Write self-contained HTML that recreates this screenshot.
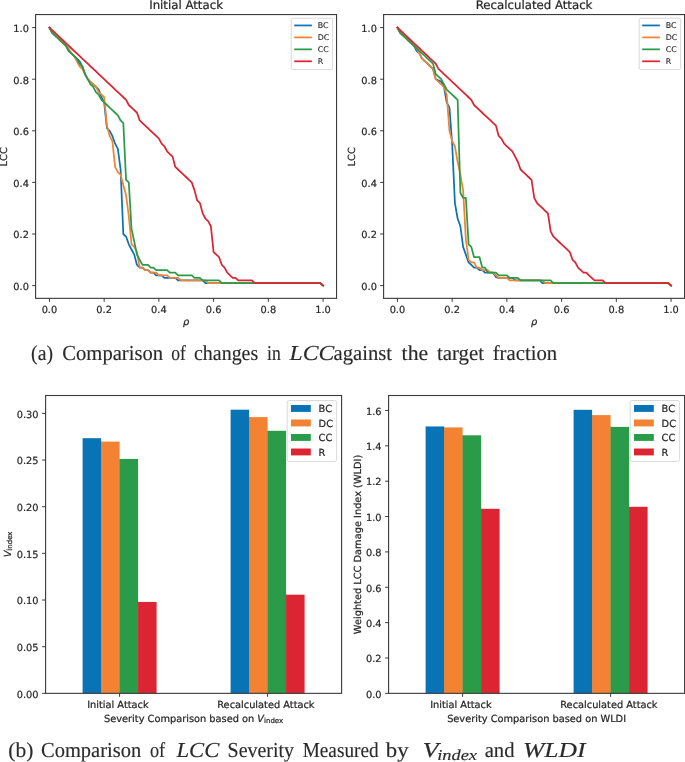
<!DOCTYPE html>
<html><head><meta charset="utf-8"><title>LCC attack comparison</title>
<style>
html,body{margin:0;padding:0;background:#fff;}
svg{display:block;}
svg text{text-rendering:geometricPrecision;font-family:"DejaVu Sans", "Liberation Sans", sans-serif;stroke:#262626;stroke-width:0.22px;}
svg text.sm{stroke-width:0.12px;}
svg text.cap{stroke:#2a2a2a;stroke-width:0.15px;}
</style></head>
<body>
<svg width="685" height="762" viewBox="0 0 685 762">
<rect width="685" height="762" fill="#ffffff"/>
<svg x="35.60" y="14.55" width="300.95" height="283.80" viewBox="35.60 14.55 300.95 283.80" overflow="hidden">
<polyline points="49.45,27.60 52.19,32.76 54.92,35.34 57.66,37.92 60.39,40.50 63.13,43.08 65.87,45.66 68.60,50.82 71.34,53.40 74.07,55.98 76.81,58.56 79.55,61.14 82.28,66.30 85.02,74.04 87.75,79.20 90.49,81.78 93.23,84.36 95.96,86.94 98.70,89.52 101.43,97.26 104.17,102.42 106.91,128.22 109.64,130.80 112.38,135.96 115.11,143.70 117.85,148.86 120.59,169.50 123.32,234.00 126.06,236.58 128.79,244.32 131.53,249.48 134.27,254.64 137.00,264.96 139.74,267.54 142.47,267.54 145.21,270.12 147.95,270.12 150.68,272.70 153.42,272.70 156.15,275.28 158.89,275.28 161.63,275.28 164.36,277.86 167.10,277.86 169.83,277.86 172.57,277.86 175.31,277.86 178.04,280.44 180.78,280.44 183.51,280.44 186.25,280.44 188.99,280.44 191.72,280.44 194.46,280.44 197.19,280.44 199.93,280.44 202.67,280.44 205.40,283.02 208.14,283.02 210.87,283.02 213.61,283.02 216.35,283.02 219.08,283.02 221.82,283.02 224.55,283.02 227.29,283.02 230.03,283.02 232.76,283.02 235.50,283.02 238.23,283.02 240.97,283.02 243.71,283.02 246.44,283.02 249.18,283.02 251.91,283.02 254.65,283.02 257.39,283.02 260.12,283.02 262.86,283.02 265.59,283.02 268.33,283.02 271.07,283.02 273.80,283.02 276.54,283.02 279.27,283.02 282.01,283.02 284.75,283.02 287.48,283.02 290.22,283.02 292.95,283.02 295.69,283.02 298.43,283.02 301.16,283.02 303.90,283.02 306.63,283.02 309.37,283.02 312.11,283.02 314.84,283.02 317.58,283.02 320.31,283.02 323.05,285.60" fill="none" stroke="#0873B5" stroke-width="1.75" stroke-linejoin="round" stroke-linecap="square"/>
<polyline points="49.45,27.60 52.19,32.76 54.92,35.34 57.66,37.92 60.39,40.50 63.13,43.08 65.87,45.66 68.60,48.24 71.34,53.40 74.07,55.98 76.81,61.14 79.55,66.30 82.28,68.88 85.02,74.04 87.75,79.20 90.49,81.78 93.23,84.36 95.96,86.94 98.70,92.10 101.43,94.68 104.17,97.26 106.91,125.64 109.64,135.96 112.38,141.12 115.11,166.92 117.85,172.08 120.59,174.66 123.32,184.98 126.06,195.30 128.79,215.94 131.53,244.32 134.27,246.90 137.00,252.06 139.74,267.54 142.47,267.54 145.21,270.12 147.95,270.12 150.68,272.70 153.42,272.70 156.15,272.70 158.89,275.28 161.63,275.28 164.36,275.28 167.10,275.28 169.83,277.86 172.57,277.86 175.31,277.86 178.04,277.86 180.78,280.44 183.51,280.44 186.25,280.44 188.99,280.44 191.72,280.44 194.46,280.44 197.19,280.44 199.93,280.44 202.67,280.44 205.40,280.44 208.14,283.02 210.87,283.02 213.61,283.02 216.35,283.02 219.08,283.02 221.82,283.02 224.55,283.02 227.29,283.02 230.03,283.02 232.76,283.02 235.50,283.02 238.23,283.02 240.97,283.02 243.71,283.02 246.44,283.02 249.18,283.02 251.91,283.02 254.65,283.02 257.39,283.02 260.12,283.02 262.86,283.02 265.59,283.02 268.33,283.02 271.07,283.02 273.80,283.02 276.54,283.02 279.27,283.02 282.01,283.02 284.75,283.02 287.48,283.02 290.22,283.02 292.95,283.02 295.69,283.02 298.43,283.02 301.16,283.02 303.90,283.02 306.63,283.02 309.37,283.02 312.11,283.02 314.84,283.02 317.58,283.02 320.31,283.02 323.05,285.60" fill="none" stroke="#F38233" stroke-width="1.75" stroke-linejoin="round" stroke-linecap="square"/>
<polyline points="49.45,27.60 52.19,32.76 54.92,35.34 57.66,37.92 60.39,40.50 63.13,43.08 65.87,45.66 68.60,50.82 71.34,53.40 74.07,55.98 76.81,58.56 79.55,63.72 82.28,66.30 85.02,74.04 87.75,79.20 90.49,84.36 93.23,86.94 95.96,92.10 98.70,94.68 101.43,99.84 104.17,102.42 106.91,105.00 109.64,107.58 112.38,110.16 115.11,112.74 117.85,115.32 120.59,120.48 123.32,123.06 126.06,179.82 128.79,182.40 131.53,228.84 134.27,241.74 137.00,254.64 139.74,259.80 142.47,264.96 145.21,264.96 147.95,264.96 150.68,267.54 153.42,267.54 156.15,270.12 158.89,270.12 161.63,270.12 164.36,270.12 167.10,270.12 169.83,272.70 172.57,272.70 175.31,272.70 178.04,275.28 180.78,275.28 183.51,275.28 186.25,275.28 188.99,275.28 191.72,275.28 194.46,277.86 197.19,277.86 199.93,277.86 202.67,280.44 205.40,280.44 208.14,280.44 210.87,280.44 213.61,280.44 216.35,280.44 219.08,280.44 221.82,283.02 224.55,283.02 227.29,283.02 230.03,283.02 232.76,283.02 235.50,283.02 238.23,283.02 240.97,283.02 243.71,283.02 246.44,283.02 249.18,283.02 251.91,283.02 254.65,283.02 257.39,283.02 260.12,283.02 262.86,283.02 265.59,283.02 268.33,283.02 271.07,283.02 273.80,283.02 276.54,283.02 279.27,283.02 282.01,283.02 284.75,283.02 287.48,283.02 290.22,283.02 292.95,283.02 295.69,283.02 298.43,283.02 301.16,283.02 303.90,283.02 306.63,283.02 309.37,283.02 312.11,283.02 314.84,283.02 317.58,283.02 320.31,283.02 323.05,285.60" fill="none" stroke="#2A9B48" stroke-width="1.75" stroke-linejoin="round" stroke-linecap="square"/>
<polyline points="49.45,27.60 52.19,30.18 54.92,32.76 57.66,35.34 60.39,37.92 63.13,40.50 65.87,43.08 68.60,45.66 71.34,48.24 74.07,50.82 76.81,53.40 79.55,55.98 82.28,58.56 85.02,61.14 87.75,63.72 90.49,66.30 93.23,68.88 95.96,71.46 98.70,74.04 101.43,76.62 104.17,79.20 106.91,81.78 109.64,84.36 112.38,86.94 115.11,89.52 117.85,92.10 120.59,94.68 123.32,97.26 126.06,99.84 128.79,105.00 131.53,107.58 134.27,110.16 137.00,112.74 139.74,120.48 142.47,123.06 145.21,125.64 147.95,128.22 150.68,130.80 153.42,133.38 156.15,135.96 158.89,138.54 161.63,143.70 164.36,146.28 167.10,151.44 169.83,154.02 172.57,156.60 175.31,166.92 178.04,169.50 180.78,172.08 183.51,174.66 186.25,177.24 188.99,179.82 191.72,182.40 194.46,190.14 197.19,200.46 199.93,203.04 202.67,213.36 205.40,218.52 208.14,221.10 210.87,226.26 213.61,252.06 216.35,254.64 219.08,257.22 221.82,264.96 224.55,267.54 227.29,272.70 230.03,275.28 232.76,277.86 235.50,277.86 238.23,280.44 240.97,280.44 243.71,280.44 246.44,280.44 249.18,280.44 251.91,280.44 254.65,283.02 257.39,283.02 260.12,283.02 262.86,283.02 265.59,283.02 268.33,283.02 271.07,283.02 273.80,283.02 276.54,283.02 279.27,283.02 282.01,283.02 284.75,283.02 287.48,283.02 290.22,283.02 292.95,283.02 295.69,283.02 298.43,283.02 301.16,283.02 303.90,283.02 306.63,283.02 309.37,283.02 312.11,283.02 314.84,283.02 317.58,283.02 320.31,283.02 323.05,285.60" fill="none" stroke="#DD2432" stroke-width="1.75" stroke-linejoin="round" stroke-linecap="square"/>
</svg>
<rect x="35.60" y="14.55" width="300.95" height="283.80" fill="none" stroke="#3a3a3a" stroke-width="1.1"/>
<line x1="49.45" y1="298.35" x2="49.45" y2="301.85" stroke="#262626" stroke-width="0.9"/>
<text x="49.45" y="312.95" font-size="9.8" text-anchor="middle" fill="#262626" >0.0</text>
<line x1="32.10" y1="285.60" x2="35.60" y2="285.60" stroke="#262626" stroke-width="0.9"/>
<text x="28.90" y="289.90" font-size="9.8" text-anchor="end" fill="#262626" >0.0</text>
<line x1="104.17" y1="298.35" x2="104.17" y2="301.85" stroke="#262626" stroke-width="0.9"/>
<text x="104.17" y="312.95" font-size="9.8" text-anchor="middle" fill="#262626" >0.2</text>
<line x1="32.10" y1="234.00" x2="35.60" y2="234.00" stroke="#262626" stroke-width="0.9"/>
<text x="28.90" y="238.30" font-size="9.8" text-anchor="end" fill="#262626" >0.2</text>
<line x1="158.89" y1="298.35" x2="158.89" y2="301.85" stroke="#262626" stroke-width="0.9"/>
<text x="158.89" y="312.95" font-size="9.8" text-anchor="middle" fill="#262626" >0.4</text>
<line x1="32.10" y1="182.40" x2="35.60" y2="182.40" stroke="#262626" stroke-width="0.9"/>
<text x="28.90" y="186.70" font-size="9.8" text-anchor="end" fill="#262626" >0.4</text>
<line x1="213.61" y1="298.35" x2="213.61" y2="301.85" stroke="#262626" stroke-width="0.9"/>
<text x="213.61" y="312.95" font-size="9.8" text-anchor="middle" fill="#262626" >0.6</text>
<line x1="32.10" y1="130.80" x2="35.60" y2="130.80" stroke="#262626" stroke-width="0.9"/>
<text x="28.90" y="135.10" font-size="9.8" text-anchor="end" fill="#262626" >0.6</text>
<line x1="268.33" y1="298.35" x2="268.33" y2="301.85" stroke="#262626" stroke-width="0.9"/>
<text x="268.33" y="312.95" font-size="9.8" text-anchor="middle" fill="#262626" >0.8</text>
<line x1="32.10" y1="79.20" x2="35.60" y2="79.20" stroke="#262626" stroke-width="0.9"/>
<text x="28.90" y="83.50" font-size="9.8" text-anchor="end" fill="#262626" >0.8</text>
<line x1="323.05" y1="298.35" x2="323.05" y2="301.85" stroke="#262626" stroke-width="0.9"/>
<text x="323.05" y="312.95" font-size="9.8" text-anchor="middle" fill="#262626" >1.0</text>
<line x1="32.10" y1="27.60" x2="35.60" y2="27.60" stroke="#262626" stroke-width="0.9"/>
<text x="28.90" y="31.90" font-size="9.8" text-anchor="end" fill="#262626" >1.0</text>
<text x="186.08" y="8.70" font-size="11.75" text-anchor="middle" fill="#262626" >Initial Attack</text>
<text x="186.08" y="324.80" font-size="9.8" text-anchor="middle" fill="#262626" font-style="italic">ρ</text>
<text transform="translate(7.45,156.85) rotate(-90)" font-size="9.8" text-anchor="middle" fill="#262626">LCC</text>
<rect x="291.20" y="18.20" width="41.4" height="51.3" rx="1.6" ry="1.6" fill="#fff" fill-opacity="0.8" stroke="#d0d0d0" stroke-width="0.8"/>
<line x1="295.10" y1="25.45" x2="311.00" y2="25.45" stroke="#0873B5" stroke-width="1.75" stroke-linecap="square"/>
<text x="317.70" y="28.25" font-size="7.9" text-anchor="start" fill="#262626" class="sm">BC</text>
<line x1="295.10" y1="37.40" x2="311.00" y2="37.40" stroke="#F38233" stroke-width="1.75" stroke-linecap="square"/>
<text x="317.70" y="40.20" font-size="7.9" text-anchor="start" fill="#262626" class="sm">DC</text>
<line x1="295.10" y1="49.35" x2="311.00" y2="49.35" stroke="#2A9B48" stroke-width="1.75" stroke-linecap="square"/>
<text x="317.70" y="52.15" font-size="7.9" text-anchor="start" fill="#262626" class="sm">CC</text>
<line x1="295.10" y1="61.30" x2="311.00" y2="61.30" stroke="#DD2432" stroke-width="1.75" stroke-linecap="square"/>
<text x="317.70" y="64.10" font-size="7.9" text-anchor="start" fill="#262626" class="sm">R</text>
<svg x="383.60" y="14.55" width="300.95" height="283.80" viewBox="383.60 14.55 300.95 283.80" overflow="hidden">
<polyline points="397.45,27.60 400.19,32.76 402.92,35.34 405.66,37.92 408.39,40.50 411.13,43.08 413.87,45.66 416.60,50.82 419.34,53.40 422.07,58.56 424.81,61.14 427.55,63.72 430.28,66.30 433.02,68.88 435.75,79.20 438.49,80.23 441.23,81.78 443.96,86.94 446.70,102.42 449.43,107.58 452.17,143.70 454.91,203.04 457.64,218.52 460.38,226.26 463.11,246.90 465.85,254.64 468.59,262.38 471.32,264.96 474.06,267.54 476.79,267.54 479.53,270.12 482.27,270.12 485.00,272.70 487.74,272.70 490.47,272.70 493.21,272.70 495.95,277.09 498.68,277.86 501.42,277.86 504.15,277.86 506.89,277.86 509.63,277.86 512.36,277.86 515.10,280.44 517.83,280.44 520.57,280.44 523.31,280.44 526.04,280.44 528.78,280.44 531.51,280.44 534.25,280.44 536.99,280.44 539.72,280.44 542.46,283.02 545.19,283.02 547.93,283.02 550.67,283.02 553.40,283.02 556.14,283.02 558.87,283.02 561.61,283.02 564.35,283.02 567.08,283.02 569.82,283.02 572.55,283.02 575.29,283.02 578.03,283.02 580.76,283.02 583.50,283.02 586.23,283.02 588.97,283.02 591.71,283.02 594.44,283.02 597.18,283.02 599.91,283.02 602.65,283.02 605.39,283.02 608.12,283.02 610.86,283.02 613.59,283.02 616.33,283.02 619.07,283.02 621.80,283.02 624.54,283.02 627.27,283.02 630.01,283.02 632.75,283.02 635.48,283.02 638.22,283.02 640.95,283.02 643.69,283.02 646.43,283.02 649.16,283.02 651.90,283.02 654.63,283.02 657.37,283.02 660.11,283.02 662.84,283.02 665.58,283.02 668.31,283.02 671.05,285.60" fill="none" stroke="#0873B5" stroke-width="1.75" stroke-linejoin="round" stroke-linecap="square"/>
<polyline points="397.45,27.60 400.19,32.76 402.92,35.34 405.66,37.92 408.39,40.50 411.13,43.08 413.87,45.66 416.60,48.24 419.34,53.40 422.07,58.56 424.81,61.14 427.55,63.72 430.28,66.30 433.02,68.88 435.75,79.20 438.49,81.78 441.23,84.36 443.96,86.94 446.70,94.68 449.43,130.80 452.17,141.12 454.91,146.28 457.64,161.76 460.38,174.66 463.11,190.14 465.85,239.16 468.59,259.80 471.32,262.38 474.06,262.38 476.79,267.54 479.53,267.54 482.27,270.12 485.00,270.12 487.74,270.12 490.47,272.70 493.21,272.70 495.95,275.28 498.68,277.86 501.42,277.86 504.15,277.86 506.89,277.86 509.63,280.44 512.36,280.44 515.10,280.44 517.83,280.44 520.57,280.44 523.31,280.44 526.04,280.44 528.78,280.44 531.51,280.44 534.25,280.44 536.99,280.44 539.72,280.44 542.46,280.44 545.19,283.02 547.93,283.02 550.67,283.02 553.40,283.02 556.14,283.02 558.87,283.02 561.61,283.02 564.35,283.02 567.08,283.02 569.82,283.02 572.55,283.02 575.29,283.02 578.03,283.02 580.76,283.02 583.50,283.02 586.23,283.02 588.97,283.02 591.71,283.02 594.44,283.02 597.18,283.02 599.91,283.02 602.65,283.02 605.39,283.02 608.12,283.02 610.86,283.02 613.59,283.02 616.33,283.02 619.07,283.02 621.80,283.02 624.54,283.02 627.27,283.02 630.01,283.02 632.75,283.02 635.48,283.02 638.22,283.02 640.95,283.02 643.69,283.02 646.43,283.02 649.16,283.02 651.90,283.02 654.63,283.02 657.37,283.02 660.11,283.02 662.84,283.02 665.58,283.02 668.31,283.02 671.05,285.60" fill="none" stroke="#F38233" stroke-width="1.75" stroke-linejoin="round" stroke-linecap="square"/>
<polyline points="397.45,27.60 400.19,32.76 402.92,35.34 405.66,37.92 408.39,40.50 411.13,43.08 413.87,45.66 416.60,48.24 419.34,50.82 422.07,53.40 424.81,55.98 427.55,58.56 430.28,61.14 433.02,63.72 435.75,74.04 438.49,76.62 441.23,79.20 443.96,84.36 446.70,89.52 449.43,92.10 452.17,94.68 454.91,97.26 457.64,99.84 460.38,192.72 463.11,197.88 465.85,197.88 468.59,244.32 471.32,246.90 474.06,257.22 476.79,257.22 479.53,257.22 482.27,267.54 485.00,267.54 487.74,272.70 490.47,272.70 493.21,272.70 495.95,272.70 498.68,275.28 501.42,275.28 504.15,275.28 506.89,275.28 509.63,277.86 512.36,277.86 515.10,277.86 517.83,277.86 520.57,280.44 523.31,280.44 526.04,280.44 528.78,280.44 531.51,280.44 534.25,280.44 536.99,280.44 539.72,280.44 542.46,280.44 545.19,280.44 547.93,280.44 550.67,280.44 553.40,283.02 556.14,283.02 558.87,283.02 561.61,283.02 564.35,283.02 567.08,283.02 569.82,283.02 572.55,283.02 575.29,283.02 578.03,283.02 580.76,283.02 583.50,283.02 586.23,283.02 588.97,283.02 591.71,283.02 594.44,283.02 597.18,283.02 599.91,283.02 602.65,283.02 605.39,283.02 608.12,283.02 610.86,283.02 613.59,283.02 616.33,283.02 619.07,283.02 621.80,283.02 624.54,283.02 627.27,283.02 630.01,283.02 632.75,283.02 635.48,283.02 638.22,283.02 640.95,283.02 643.69,283.02 646.43,283.02 649.16,283.02 651.90,283.02 654.63,283.02 657.37,283.02 660.11,283.02 662.84,283.02 665.58,283.02 668.31,283.02 671.05,285.60" fill="none" stroke="#2A9B48" stroke-width="1.75" stroke-linejoin="round" stroke-linecap="square"/>
<polyline points="397.45,27.60 400.19,30.18 402.92,32.76 405.66,35.34 408.39,37.92 411.13,40.50 413.87,43.08 416.60,45.66 419.34,48.24 422.07,50.82 424.81,53.40 427.55,55.98 430.28,58.56 433.02,61.14 435.75,63.72 438.49,68.88 441.23,71.46 443.96,74.04 446.70,76.62 449.43,79.20 452.17,81.78 454.91,84.36 457.64,86.94 460.38,89.52 463.11,92.10 465.85,94.68 468.59,97.26 471.32,99.84 474.06,105.00 476.79,107.58 479.53,110.16 482.27,112.74 485.00,115.32 487.74,117.90 490.47,120.48 493.21,123.06 495.95,125.64 498.68,135.96 501.42,138.54 504.15,143.70 506.89,146.28 509.63,148.86 512.36,151.44 515.10,156.60 517.83,161.76 520.57,169.50 523.31,172.08 526.04,174.66 528.78,177.24 531.51,179.82 534.25,197.88 536.99,203.04 539.72,205.62 542.46,208.20 545.19,210.78 547.93,213.36 550.67,231.42 553.40,236.58 556.14,239.16 558.87,241.74 561.61,244.32 564.35,246.90 567.08,249.48 569.82,252.06 572.55,259.80 575.29,262.38 578.03,267.54 580.76,270.12 583.50,272.70 586.23,272.70 588.97,275.28 591.71,277.86 594.44,280.44 597.18,280.44 599.91,280.44 602.65,280.44 605.39,283.02 608.12,283.02 610.86,283.02 613.59,283.02 616.33,283.02 619.07,283.02 621.80,283.02 624.54,283.02 627.27,283.02 630.01,283.02 632.75,283.02 635.48,283.02 638.22,283.02 640.95,283.02 643.69,283.02 646.43,283.02 649.16,283.02 651.90,283.02 654.63,283.02 657.37,283.02 660.11,283.02 662.84,283.02 665.58,283.02 668.31,283.02 671.05,285.60" fill="none" stroke="#DD2432" stroke-width="1.75" stroke-linejoin="round" stroke-linecap="square"/>
</svg>
<rect x="383.60" y="14.55" width="300.95" height="283.80" fill="none" stroke="#3a3a3a" stroke-width="1.1"/>
<line x1="397.45" y1="298.35" x2="397.45" y2="301.85" stroke="#262626" stroke-width="0.9"/>
<text x="397.45" y="312.95" font-size="9.8" text-anchor="middle" fill="#262626" >0.0</text>
<line x1="380.10" y1="285.60" x2="383.60" y2="285.60" stroke="#262626" stroke-width="0.9"/>
<text x="376.90" y="289.90" font-size="9.8" text-anchor="end" fill="#262626" >0.0</text>
<line x1="452.17" y1="298.35" x2="452.17" y2="301.85" stroke="#262626" stroke-width="0.9"/>
<text x="452.17" y="312.95" font-size="9.8" text-anchor="middle" fill="#262626" >0.2</text>
<line x1="380.10" y1="234.00" x2="383.60" y2="234.00" stroke="#262626" stroke-width="0.9"/>
<text x="376.90" y="238.30" font-size="9.8" text-anchor="end" fill="#262626" >0.2</text>
<line x1="506.89" y1="298.35" x2="506.89" y2="301.85" stroke="#262626" stroke-width="0.9"/>
<text x="506.89" y="312.95" font-size="9.8" text-anchor="middle" fill="#262626" >0.4</text>
<line x1="380.10" y1="182.40" x2="383.60" y2="182.40" stroke="#262626" stroke-width="0.9"/>
<text x="376.90" y="186.70" font-size="9.8" text-anchor="end" fill="#262626" >0.4</text>
<line x1="561.61" y1="298.35" x2="561.61" y2="301.85" stroke="#262626" stroke-width="0.9"/>
<text x="561.61" y="312.95" font-size="9.8" text-anchor="middle" fill="#262626" >0.6</text>
<line x1="380.10" y1="130.80" x2="383.60" y2="130.80" stroke="#262626" stroke-width="0.9"/>
<text x="376.90" y="135.10" font-size="9.8" text-anchor="end" fill="#262626" >0.6</text>
<line x1="616.33" y1="298.35" x2="616.33" y2="301.85" stroke="#262626" stroke-width="0.9"/>
<text x="616.33" y="312.95" font-size="9.8" text-anchor="middle" fill="#262626" >0.8</text>
<line x1="380.10" y1="79.20" x2="383.60" y2="79.20" stroke="#262626" stroke-width="0.9"/>
<text x="376.90" y="83.50" font-size="9.8" text-anchor="end" fill="#262626" >0.8</text>
<line x1="671.05" y1="298.35" x2="671.05" y2="301.85" stroke="#262626" stroke-width="0.9"/>
<text x="671.05" y="312.95" font-size="9.8" text-anchor="middle" fill="#262626" >1.0</text>
<line x1="380.10" y1="27.60" x2="383.60" y2="27.60" stroke="#262626" stroke-width="0.9"/>
<text x="376.90" y="31.90" font-size="9.8" text-anchor="end" fill="#262626" >1.0</text>
<text x="534.08" y="8.70" font-size="11.75" text-anchor="middle" fill="#262626" >Recalculated Attack</text>
<text x="534.08" y="324.80" font-size="9.8" text-anchor="middle" fill="#262626" font-style="italic">ρ</text>
<text transform="translate(355.45,156.85) rotate(-90)" font-size="9.8" text-anchor="middle" fill="#262626">LCC</text>
<rect x="639.20" y="18.20" width="41.4" height="51.3" rx="1.6" ry="1.6" fill="#fff" fill-opacity="0.8" stroke="#d0d0d0" stroke-width="0.8"/>
<line x1="643.10" y1="25.45" x2="659.00" y2="25.45" stroke="#0873B5" stroke-width="1.75" stroke-linecap="square"/>
<text x="665.70" y="28.25" font-size="7.9" text-anchor="start" fill="#262626" class="sm">BC</text>
<line x1="643.10" y1="37.40" x2="659.00" y2="37.40" stroke="#F38233" stroke-width="1.75" stroke-linecap="square"/>
<text x="665.70" y="40.20" font-size="7.9" text-anchor="start" fill="#262626" class="sm">DC</text>
<line x1="643.10" y1="49.35" x2="659.00" y2="49.35" stroke="#2A9B48" stroke-width="1.75" stroke-linecap="square"/>
<text x="665.70" y="52.15" font-size="7.9" text-anchor="start" fill="#262626" class="sm">CC</text>
<line x1="643.10" y1="61.30" x2="659.00" y2="61.30" stroke="#DD2432" stroke-width="1.75" stroke-linecap="square"/>
<text x="665.70" y="64.10" font-size="7.9" text-anchor="start" fill="#262626" class="sm">R</text>
<rect x="82.60" y="438.20" width="18.50" height="255.15" fill="#0873B5"/>
<rect x="100.80" y="441.60" width="0.8" height="251.75" fill="#0873B5"/>
<rect x="101.10" y="441.60" width="18.50" height="251.75" fill="#F38233"/>
<rect x="119.30" y="459.00" width="0.8" height="234.35" fill="#F38233"/>
<rect x="119.60" y="459.00" width="18.50" height="234.35" fill="#2A9B48"/>
<rect x="137.80" y="601.95" width="0.8" height="91.40" fill="#2A9B48"/>
<rect x="138.10" y="601.95" width="18.50" height="91.40" fill="#DD2432"/>
<rect x="230.60" y="409.70" width="18.50" height="283.65" fill="#0873B5"/>
<rect x="248.80" y="417.10" width="0.8" height="276.25" fill="#0873B5"/>
<rect x="249.10" y="417.10" width="18.50" height="276.25" fill="#F38233"/>
<rect x="267.30" y="430.80" width="0.8" height="262.55" fill="#F38233"/>
<rect x="267.60" y="430.80" width="18.50" height="262.55" fill="#2A9B48"/>
<rect x="285.80" y="594.70" width="0.8" height="98.65" fill="#2A9B48"/>
<rect x="286.10" y="594.70" width="18.50" height="98.65" fill="#DD2432"/>
<rect x="45.60" y="395.50" width="296.00" height="297.85" fill="none" stroke="#3a3a3a" stroke-width="1.1"/>
<line x1="42.10" y1="693.35" x2="45.60" y2="693.35" stroke="#262626" stroke-width="0.9"/>
<text x="38.60" y="697.65" font-size="9.8" text-anchor="end" fill="#262626" >0.00</text>
<line x1="42.10" y1="646.69" x2="45.60" y2="646.69" stroke="#262626" stroke-width="0.9"/>
<text x="38.60" y="650.99" font-size="9.8" text-anchor="end" fill="#262626" >0.05</text>
<line x1="42.10" y1="600.03" x2="45.60" y2="600.03" stroke="#262626" stroke-width="0.9"/>
<text x="38.60" y="604.33" font-size="9.8" text-anchor="end" fill="#262626" >0.10</text>
<line x1="42.10" y1="553.37" x2="45.60" y2="553.37" stroke="#262626" stroke-width="0.9"/>
<text x="38.60" y="557.67" font-size="9.8" text-anchor="end" fill="#262626" >0.15</text>
<line x1="42.10" y1="506.71" x2="45.60" y2="506.71" stroke="#262626" stroke-width="0.9"/>
<text x="38.60" y="511.01" font-size="9.8" text-anchor="end" fill="#262626" >0.20</text>
<line x1="42.10" y1="460.05" x2="45.60" y2="460.05" stroke="#262626" stroke-width="0.9"/>
<text x="38.60" y="464.35" font-size="9.8" text-anchor="end" fill="#262626" >0.25</text>
<line x1="42.10" y1="413.39" x2="45.60" y2="413.39" stroke="#262626" stroke-width="0.9"/>
<text x="38.60" y="417.69" font-size="9.8" text-anchor="end" fill="#262626" >0.30</text>
<line x1="119.60" y1="693.35" x2="119.60" y2="696.85" stroke="#262626" stroke-width="0.9"/>
<text x="117.90" y="707.80" font-size="9.8" text-anchor="middle" fill="#262626" >Initial Attack</text>
<line x1="267.60" y1="693.35" x2="267.60" y2="696.85" stroke="#262626" stroke-width="0.9"/>
<text x="265.90" y="707.80" font-size="9.8" text-anchor="middle" fill="#262626" >Recalculated Attack</text>
<text x="193.60" y="721.70" font-size="9.8" text-anchor="middle" fill="#262626">Severity Comparison based on <tspan font-style="italic">V</tspan><tspan font-size="7.0" dy="1.5">index</tspan></text>
<text transform="translate(10.50,544.42) rotate(-90)" font-size="9.8" text-anchor="middle" fill="#262626"><tspan font-style="italic">V</tspan><tspan font-size="7.0" dy="1.5">index</tspan></text>
<rect x="287.20" y="400.50" width="49.4" height="61.0" rx="2" ry="2" fill="#fff" fill-opacity="0.8" stroke="#d0d0d0" stroke-width="0.8"/>
<rect x="291.00" y="405.00" width="19.8" height="6.9" fill="#0873B5"/>
<text x="318.60" y="412.00" font-size="9.8" text-anchor="start" fill="#262626" >BC</text>
<rect x="291.00" y="419.50" width="19.8" height="6.9" fill="#F38233"/>
<text x="318.60" y="426.50" font-size="9.8" text-anchor="start" fill="#262626" >DC</text>
<rect x="291.00" y="434.00" width="19.8" height="6.9" fill="#2A9B48"/>
<text x="318.60" y="441.00" font-size="9.8" text-anchor="start" fill="#262626" >CC</text>
<rect x="291.00" y="448.50" width="19.8" height="6.9" fill="#DD2432"/>
<text x="318.60" y="455.50" font-size="9.8" text-anchor="start" fill="#262626" >R</text>
<rect x="425.60" y="426.45" width="18.50" height="266.90" fill="#0873B5"/>
<rect x="443.80" y="427.40" width="0.8" height="265.95" fill="#0873B5"/>
<rect x="444.10" y="427.40" width="18.50" height="265.95" fill="#F38233"/>
<rect x="462.30" y="435.30" width="0.8" height="258.05" fill="#F38233"/>
<rect x="462.60" y="435.30" width="18.50" height="258.05" fill="#2A9B48"/>
<rect x="480.80" y="508.80" width="0.8" height="184.55" fill="#2A9B48"/>
<rect x="481.10" y="508.80" width="18.50" height="184.55" fill="#DD2432"/>
<rect x="573.60" y="409.80" width="18.50" height="283.55" fill="#0873B5"/>
<rect x="591.80" y="415.10" width="0.8" height="278.25" fill="#0873B5"/>
<rect x="592.10" y="415.10" width="18.50" height="278.25" fill="#F38233"/>
<rect x="610.30" y="426.90" width="0.8" height="266.45" fill="#F38233"/>
<rect x="610.60" y="426.90" width="18.50" height="266.45" fill="#2A9B48"/>
<rect x="628.80" y="506.80" width="0.8" height="186.55" fill="#2A9B48"/>
<rect x="629.10" y="506.80" width="18.50" height="186.55" fill="#DD2432"/>
<rect x="388.60" y="395.50" width="296.00" height="297.85" fill="none" stroke="#3a3a3a" stroke-width="1.1"/>
<line x1="385.10" y1="693.35" x2="388.60" y2="693.35" stroke="#262626" stroke-width="0.9"/>
<text x="381.60" y="697.65" font-size="9.8" text-anchor="end" fill="#262626" >0.0</text>
<line x1="385.10" y1="657.99" x2="388.60" y2="657.99" stroke="#262626" stroke-width="0.9"/>
<text x="381.60" y="662.29" font-size="9.8" text-anchor="end" fill="#262626" >0.2</text>
<line x1="385.10" y1="622.63" x2="388.60" y2="622.63" stroke="#262626" stroke-width="0.9"/>
<text x="381.60" y="626.93" font-size="9.8" text-anchor="end" fill="#262626" >0.4</text>
<line x1="385.10" y1="587.27" x2="388.60" y2="587.27" stroke="#262626" stroke-width="0.9"/>
<text x="381.60" y="591.57" font-size="9.8" text-anchor="end" fill="#262626" >0.6</text>
<line x1="385.10" y1="551.91" x2="388.60" y2="551.91" stroke="#262626" stroke-width="0.9"/>
<text x="381.60" y="556.21" font-size="9.8" text-anchor="end" fill="#262626" >0.8</text>
<line x1="385.10" y1="516.55" x2="388.60" y2="516.55" stroke="#262626" stroke-width="0.9"/>
<text x="381.60" y="520.85" font-size="9.8" text-anchor="end" fill="#262626" >1.0</text>
<line x1="385.10" y1="481.19" x2="388.60" y2="481.19" stroke="#262626" stroke-width="0.9"/>
<text x="381.60" y="485.49" font-size="9.8" text-anchor="end" fill="#262626" >1.2</text>
<line x1="385.10" y1="445.83" x2="388.60" y2="445.83" stroke="#262626" stroke-width="0.9"/>
<text x="381.60" y="450.13" font-size="9.8" text-anchor="end" fill="#262626" >1.4</text>
<line x1="385.10" y1="410.47" x2="388.60" y2="410.47" stroke="#262626" stroke-width="0.9"/>
<text x="381.60" y="414.77" font-size="9.8" text-anchor="end" fill="#262626" >1.6</text>
<line x1="462.60" y1="693.35" x2="462.60" y2="696.85" stroke="#262626" stroke-width="0.9"/>
<text x="460.90" y="707.80" font-size="9.8" text-anchor="middle" fill="#262626" >Initial Attack</text>
<line x1="610.60" y1="693.35" x2="610.60" y2="696.85" stroke="#262626" stroke-width="0.9"/>
<text x="608.90" y="707.80" font-size="9.8" text-anchor="middle" fill="#262626" >Recalculated Attack</text>
<text x="536.60" y="721.70" font-size="9.8" text-anchor="middle" fill="#262626">Severity Comparison based on WLDI</text>
<text transform="translate(360.70,544.42) rotate(-90)" font-size="9.8" text-anchor="middle" fill="#262626">Weighted LCC Damage Index (WLDI)</text>
<rect x="630.20" y="400.50" width="49.4" height="61.0" rx="2" ry="2" fill="#fff" fill-opacity="0.8" stroke="#d0d0d0" stroke-width="0.8"/>
<rect x="634.00" y="405.00" width="19.8" height="6.9" fill="#0873B5"/>
<text x="661.60" y="412.00" font-size="9.8" text-anchor="start" fill="#262626" >BC</text>
<rect x="634.00" y="419.50" width="19.8" height="6.9" fill="#F38233"/>
<text x="661.60" y="426.50" font-size="9.8" text-anchor="start" fill="#262626" >DC</text>
<rect x="634.00" y="434.00" width="19.8" height="6.9" fill="#2A9B48"/>
<text x="661.60" y="441.00" font-size="9.8" text-anchor="start" fill="#262626" >CC</text>
<rect x="634.00" y="448.50" width="19.8" height="6.9" fill="#DD2432"/>
<text x="661.60" y="455.50" font-size="9.8" text-anchor="start" fill="#262626" >R</text>
<text x="31.10" y="359.90" font-size="21.3" fill="#2a2a2a" class="cap" style="font-family:'Liberation Serif','DejaVu Serif',serif" textLength="21.90" lengthAdjust="spacingAndGlyphs">(a)</text>
<text x="62.30" y="359.90" font-size="21.3" fill="#2a2a2a" class="cap" style="font-family:'Liberation Serif','DejaVu Serif',serif" textLength="100.80" lengthAdjust="spacingAndGlyphs">Comparison</text>
<text x="171.20" y="359.90" font-size="21.3" fill="#2a2a2a" class="cap" style="font-family:'Liberation Serif','DejaVu Serif',serif" textLength="14.60" lengthAdjust="spacingAndGlyphs">of</text>
<text x="194.00" y="359.90" font-size="21.3" fill="#2a2a2a" class="cap" style="font-family:'Liberation Serif','DejaVu Serif',serif" textLength="64.20" lengthAdjust="spacingAndGlyphs">changes</text>
<text x="267.00" y="359.90" font-size="21.3" fill="#2a2a2a" class="cap" style="font-family:'Liberation Serif','DejaVu Serif',serif" textLength="13.70" lengthAdjust="spacingAndGlyphs">in</text>
<text x="289.50" y="359.90" font-size="21.3" fill="#2a2a2a" class="cap" style="font-family:'Liberation Serif','DejaVu Serif',serif" font-style="italic" textLength="44.70" lengthAdjust="spacingAndGlyphs">LCC</text>
<text x="333.60" y="359.90" font-size="21.3" fill="#2a2a2a" class="cap" style="font-family:'Liberation Serif','DejaVu Serif',serif" textLength="58.50" lengthAdjust="spacingAndGlyphs">against</text>
<text x="401.60" y="359.90" font-size="21.3" fill="#2a2a2a" class="cap" style="font-family:'Liberation Serif','DejaVu Serif',serif" textLength="26.60" lengthAdjust="spacingAndGlyphs">the</text>
<text x="436.90" y="359.90" font-size="21.3" fill="#2a2a2a" class="cap" style="font-family:'Liberation Serif','DejaVu Serif',serif" textLength="47.10" lengthAdjust="spacingAndGlyphs">target</text>
<text x="492.70" y="359.90" font-size="21.3" fill="#2a2a2a" class="cap" style="font-family:'Liberation Serif','DejaVu Serif',serif" textLength="64.50" lengthAdjust="spacingAndGlyphs">fraction</text>
<text x="8.30" y="756.80" font-size="21.3" fill="#2a2a2a" class="cap" style="font-family:'Liberation Serif','DejaVu Serif',serif" textLength="25.10" lengthAdjust="spacingAndGlyphs">(b)</text>
<text x="41.00" y="756.80" font-size="21.3" fill="#2a2a2a" class="cap" style="font-family:'Liberation Serif','DejaVu Serif',serif" textLength="100.20" lengthAdjust="spacingAndGlyphs">Comparison</text>
<text x="149.90" y="756.80" font-size="21.3" fill="#2a2a2a" class="cap" style="font-family:'Liberation Serif','DejaVu Serif',serif" textLength="15.20" lengthAdjust="spacingAndGlyphs">of</text>
<text x="176.50" y="756.80" font-size="21.3" fill="#2a2a2a" class="cap" style="font-family:'Liberation Serif','DejaVu Serif',serif" font-style="italic" textLength="42.90" lengthAdjust="spacingAndGlyphs">LCC</text>
<text x="227.60" y="756.80" font-size="21.3" fill="#2a2a2a" class="cap" style="font-family:'Liberation Serif','DejaVu Serif',serif" textLength="66.40" lengthAdjust="spacingAndGlyphs">Severity</text>
<text x="302.70" y="756.80" font-size="21.3" fill="#2a2a2a" class="cap" style="font-family:'Liberation Serif','DejaVu Serif',serif" textLength="75.90" lengthAdjust="spacingAndGlyphs">Measured</text>
<text x="385.80" y="756.80" font-size="21.3" fill="#2a2a2a" class="cap" style="font-family:'Liberation Serif','DejaVu Serif',serif" textLength="22.80" lengthAdjust="spacingAndGlyphs">by</text>
<text x="422.80" y="756.80" font-size="21.3" fill="#2a2a2a" class="cap" style="font-family:'Liberation Serif','DejaVu Serif',serif" font-style="italic" textLength="15.80" lengthAdjust="spacingAndGlyphs">V</text>
<text x="484.70" y="756.80" font-size="21.3" fill="#2a2a2a" class="cap" style="font-family:'Liberation Serif','DejaVu Serif',serif" textLength="29.80" lengthAdjust="spacingAndGlyphs">and</text>
<text x="523.00" y="756.80" font-size="21.3" fill="#2a2a2a" class="cap" style="font-family:'Liberation Serif','DejaVu Serif',serif" font-style="italic" textLength="62.60" lengthAdjust="spacingAndGlyphs">WLDI</text>
<text x="437.20" y="759.70" font-size="15" fill="#2a2a2a" class="cap" style="font-family:'Liberation Serif','DejaVu Serif',serif" font-style="italic" textLength="39.80" lengthAdjust="spacingAndGlyphs">index</text>
</svg>
</body></html>
